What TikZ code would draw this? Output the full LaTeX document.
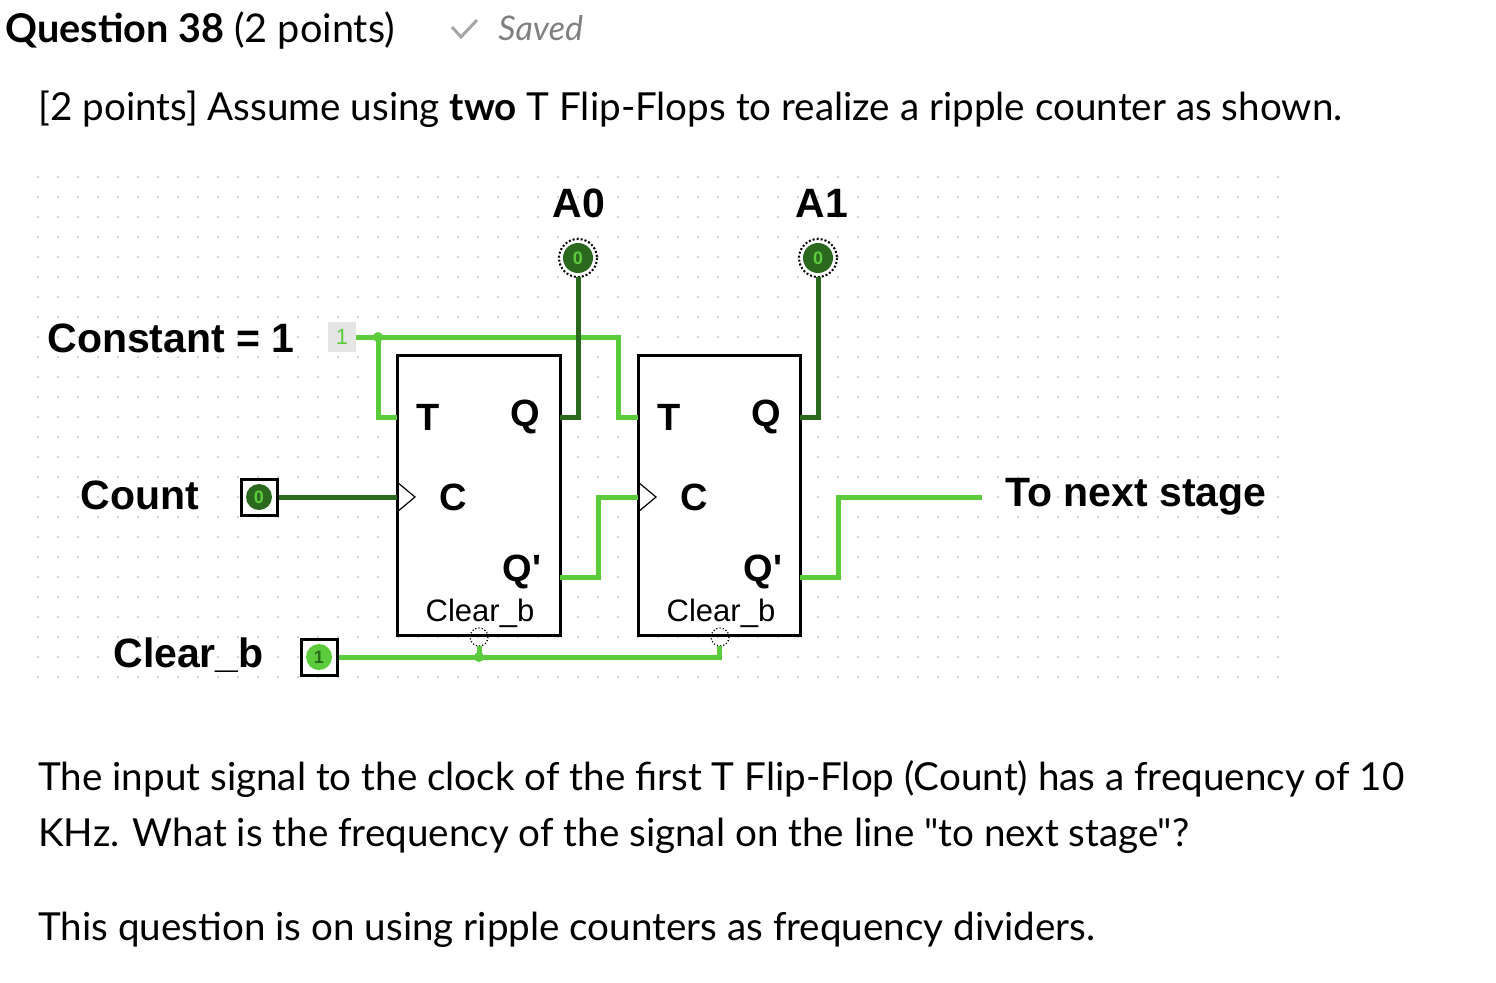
\documentclass[tikz,border=0pt]{standalone}
\usepackage{fontspec}
\setmainfont{Lato}[Ligatures=TeXOff]
\newfontfamily\arl{Liberation Sans}
\definecolor{lg}{HTML}{5CCB3C}
\definecolor{dg}{HTML}{2B6A1E}
\definecolor{dotc}{HTML}{BBBBBB}
\begin{document}
\begin{tikzpicture}[x=0.5pt,y=-0.5pt,
  lw/.style={lg,line width=2.5pt},
  dw/.style={dg,line width=2.5pt},
  ff/.style={draw,line width=1.5pt},
  lab/.style={font=\arl\bfseries\fontsize{19}{22}\selectfont,inner sep=0pt},
  big/.style={font=\arl\bfseries\fontsize{20.5}{24}\selectfont,inner sep=0pt},
  txt/.style={font=\fontsize{19.3}{22}\selectfont,inner sep=0pt,anchor=base west},
  cb/.style={font=\arl\fontsize{15.5}{16}\selectfont,inner sep=0pt},
  jd/.style={circle,fill=lg,inner sep=0pt,minimum size=5pt}]
\useasboundingbox (0,0) rectangle (1496,982);
% grid
\foreach \i in {0,...,62}{\foreach \j in {0,...,25}{
  \fill[dotc] (38+20*\i,177+20*\j) circle (0.5pt);}}
% texts
\node[txt,font=\fontsize{19.8}{22}\selectfont] (q) at (5,42) {\textbf{Question 38} (2 points)};
\node[txt,text=gray,font=\itshape\fontsize{17}{20}\selectfont] (s) at (498,40) {Saved};
\draw[gray!70,line width=1.5pt] (452,27) -- (461,37) -- (477,20);
\node[txt] (l2) at (38,120) {[2 points] Assume using \textbf{two} T Flip-Flops to realize a ripple counter as shown.};
\node[txt] (b1) at (38,790) {The input signal to the clock of the first T Flip-Flop (Count) has a frequency of 10};
\node[txt] (b2) at (38,846) {KHz. What is the frequency of the signal on the line "to next stage"?};
\node[txt] (b3) at (38,940) {This question is on using ripple counters as frequency dividers.};
% flip-flops
\node[ff,fill=white,minimum width=81.5pt,minimum height=140pt,inner sep=0pt] (f1) at (478.5,495) {};
\node[ff,fill=white,minimum width=81pt,minimum height=140pt,inner sep=0pt] (f2) at (719,495) {};
\foreach \f/\x in {f1/397,f2/638}{
  \node[lab] at (\x+31,417) {T};
  \node[lab] at (\x+128,417) {Q};
  \node[lab] at (\x+56,497) {C};
  \node[lab] at (\x+125,572) {Q'};
  \node[cb] at (\x+83,613) {Clear\_b};
  \draw[line width=0.6pt] (\x,482) -- (\x+18,497) -- (\x,512);
  \draw[line width=0.6pt,densely dotted] (\x+82,637) circle (9);
}
% labels
\node[big] (a0) at (579,203) {A0};
\node[big] (a1) at (822,203) {A1};
\node[big,anchor=west] (cl) at (47,338) {Constant = 1};
\node[big,anchor=west] (cn) at (80,495) {Count};
\node[big,anchor=west] (cr) at (113,655) {Clear\_b};
\node[big,anchor=west] (ns) at (1005,497) {To next stage};
% inputs/outputs
\node[fill=black!10,minimum width=14pt,minimum height=15pt,inner sep=0pt,text=lg,font=\arl\fontsize{11}{12}\selectfont] (k) at (342,337) {1};
\node[draw,line width=1.5pt,minimum width=18pt,minimum height=18pt] (cnt) at (259,497) {};
\fill[dg] (259,497) circle (6.5pt);
\node[text=lg,font=\arl\bfseries\fontsize{9}{10}\selectfont] at (259,497) {0};
\node[draw,line width=1.5pt,minimum width=18pt,minimum height=18pt] (clr) at (319,657) {};
\fill[lg] (319,657) circle (6.5pt);
\node[text=dg,font=\arl\bfseries\fontsize{9}{10}\selectfont] at (319,657) {1};
\foreach \n/\x in {o0/578,o1/818}{
  \draw[line width=1pt,densely dotted] (\x,258) circle (19);
  \fill[dg] (\x,258) circle (7.5pt);
  \node[text=lg,font=\arl\bfseries\fontsize{9}{10}\selectfont] (\n) at (\x,258) {0};
}
% wires
\draw[lw] (k.east) -- (618,337) -- (618,417) -- (638,417);
\draw[lw] (378,337) -- (378,417) -- (397,417);
\node[jd] at (378,337) {};
\draw[dw] (560,417) -- (578,417) -- (578,277);
\draw[dw] (800,417) -- (818,417) -- (818,277);
\draw[dw] (cnt.east) -- (397,497);
\draw[lw] (560,577) -- (598,577) -- (598,497) -- (638,497);
\draw[lw] (800,577) -- (838,577) -- (838,497) -- (982,497);
\draw[lw] (clr.east) -- (719,657) -- (719,646);
\draw[lw] (479,657) -- (479,646);
\node[jd] at (479,657) {};
\end{tikzpicture}
\end{document}
